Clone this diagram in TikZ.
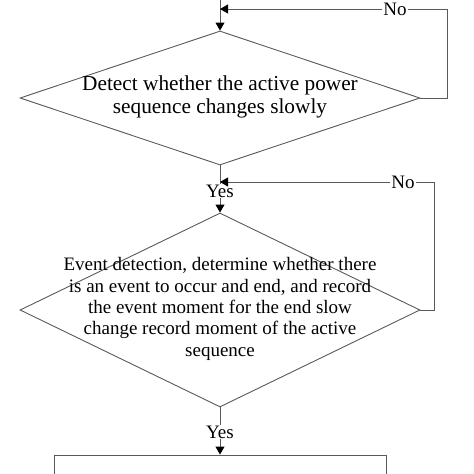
\documentclass[tikz,border=0pt]{standalone}
\usepackage{fontspec}
\setmainfont{Liberation Serif}
\usetikzlibrary{shapes.geometric,arrows.meta}
\begin{document}
\begin{tikzpicture}[x=1pt,y=-1pt,
  line/.style={draw=black!65,line width=0.9pt},
  arr/.style={line,-{Triangle[length=8pt,width=9pt,color=black]}},
  dia/.style={diamond,line,inner sep=0pt,minimum width=400pt,minimum height=134pt},
  dia2/.style={diamond,line,inner sep=0pt,minimum width=400pt,minimum height=194pt},
  lbl/.style={font=\fontsize{19}{21}\selectfont,inner sep=1pt},
  lblw/.style={lbl,fill=white},
  boxst/.style={rectangle,line,minimum width=332pt,minimum height=60pt,inner sep=0pt}]
\useasboundingbox (0,0) rectangle (474,474);
\clip (0,0) rectangle (474,474);
\coordinate (top) at (220,-2);
\node[dia] (d1) at (220,98) {};
\node[font=\fontsize{21.3}{23}\selectfont,align=center] (t1) at (220,97) {Detect whether the active power\\sequence changes slowly};
\node[dia2] (d2) at (220,310) {};
\node[font=\fontsize{19}{21.3}\selectfont,align=center] (t2) at (220,309) {Event detection, determine whether there\\is an event to occur and end, and record\\the event moment for the end slow\\change record moment of the active\\sequence};
\node[boxst] (b) at (386/2+54/2,485) {};
\draw[arr] (top) -- (d1.north);
% loop 1
\coordinate (r1) at (447,98);
\coordinate (r1t) at (447,9);
\coordinate (e1) at (220,9);
\draw[arr] (d1.east) -- (r1) -- (r1t) -- (e1);
\node[lblw] (no1) at (395,9) {No};
% d1 -> d2
\draw[arr] (d1.south) -- (d2.north);
\node[lblw] (yes1) at (220,191) {Yes};
\coordinate (r2) at (434,310);
\coordinate (r2t) at (434,182);
\coordinate (e2) at (220,182);
\draw[arr] (d2.east) -- (r2) -- (r2t) -- (e2);
\node[lblw] (no2) at (403,182) {No};
% d2 -> box
\draw[arr] (d2.south) -- (b.north);
\node[lblw] (yes2) at (220,432) {Yes};
\end{tikzpicture}
\end{document}
